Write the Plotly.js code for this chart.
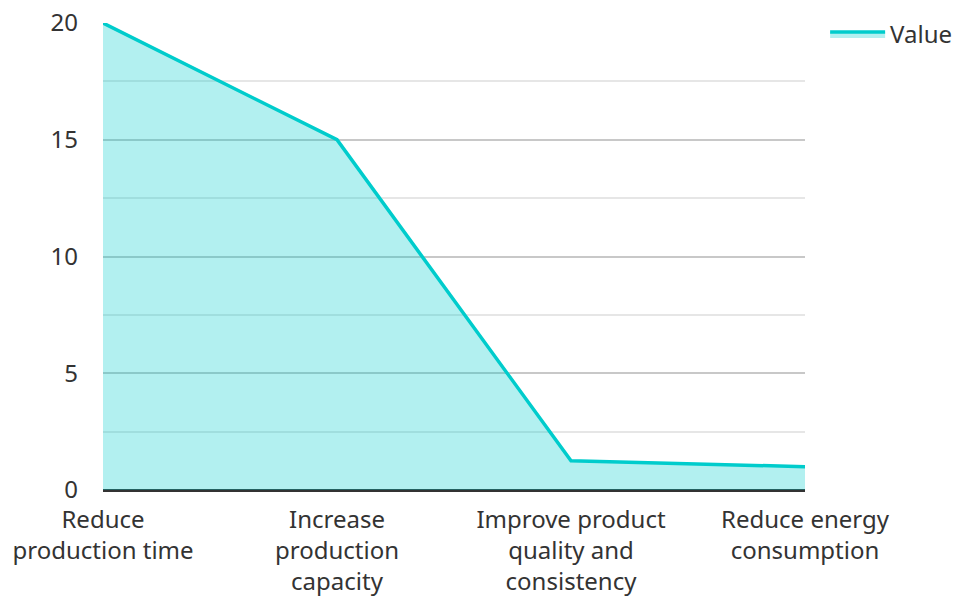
<!DOCTYPE html>
<html><head><meta charset="utf-8">
<script src="https://cdn.plot.ly/plotly-3.0.1.min.js"></script>
<style>html,body{margin:0;padding:0;background:#fff}</style>
</head><body><div id="chart" style="width:955px;height:597px"></div>
<script>
const categories = ["Reduce<br>production time", "Increase<br>production<br>capacity", "Improve product<br>quality and<br>consistency", "Reduce energy<br>consumption"];
const values = [20, 15, 1.25, 1];
const seriesName = "Value";

const trace = {
  x: categories, y: values, name: seriesName, type: "scatter", mode: "lines",
  fill: "tozeroy", fillcolor: "rgba(0,204,204,0.3)",
  line: {color: "#00cccc", width: 3.5}
};
const layout = {
  width: 955, height: 597,
  margin: {l: 103, r: 150, t: 23, b: 107},
  font: {family: "Noto Sans", size: 24, color: "#333"},
  paper_bgcolor: "#fff", plot_bgcolor: "#fff",
  showlegend: true,
  legend: {xref: "container", yref: "container", x: 0.864, y: 0.98, xanchor: "left", yanchor: "top",
    itemwidth: 55, font: {size: 24, color: "#333"}},
  xaxis: {range: [0, 3], showgrid: false, zeroline: false, showline: false, ticks: "", ticklabelstandoff: 13, fixedrange: true},
  yaxis: {range: [0, 20], dtick: 5, tick0: 0, gridcolor: "#c8c8c8", gridwidth: 1.5,
    zeroline: true, zerolinecolor: "#333", zerolinewidth: 2.5, showline: false, ticks: "",
    ticklabelstandoff: 24,
    minor: {dtick: 2.5, tick0: 0, showgrid: true, gridcolor: "#e6e6e6", gridwidth: 1.5}}
};
Plotly.newPlot("chart", [trace], layout, {displayModeBar: false, responsive: false});
</script></body></html>
